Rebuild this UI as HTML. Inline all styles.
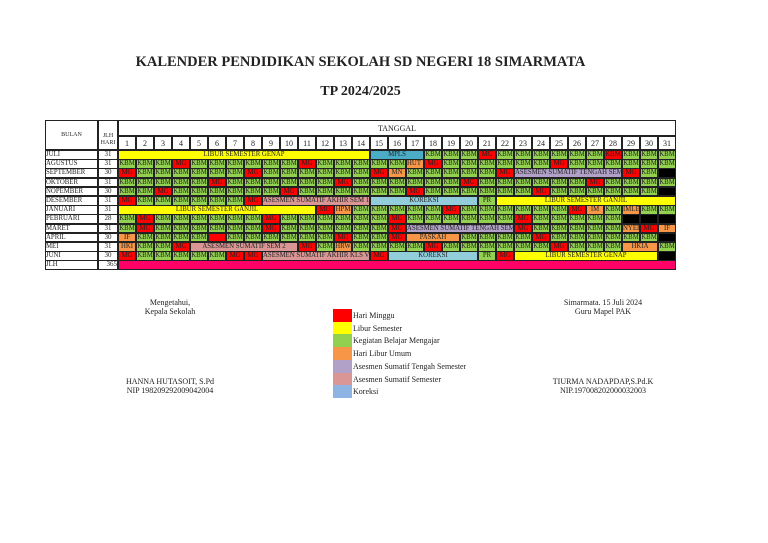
<!DOCTYPE html>
<html><head><meta charset="utf-8">
<style>
body{margin:0;width:768px;height:543px;background:#fff;position:relative;overflow:hidden;font-family:"Liberation Serif",serif;color:#222}
.a{position:absolute;box-sizing:border-box;white-space:nowrap;overflow:hidden}
.c{border:1px solid #222;font-size:6.8px;line-height:8px;text-align:center}
.t{position:absolute;white-space:nowrap;font-size:8px;text-align:center}
</style></head><body>
<div class="t" style="left:0;width:721px;top:54px;font-size:14.5px;font-weight:bold;">KALENDER PENDIDIKAN SEKOLAH SD NEGERI 18 SIMARMATA</div>
<div class="t" style="left:0;width:721px;top:84px;font-size:14px;font-weight:bold;">TP 2024/2025</div>
<div id="tbl"></div>

<div class="t" style="left:110px;width:120px;top:298px">Mengetahui,<br>Kepala Sekolah</div>
<div class="t" style="left:100px;width:140px;top:377px">HANNA HUTASOIT, S.Pd<br>NIP 198209292009042004</div>
<div class="t" style="left:543px;width:120px;top:298px">Simarmata. 15 Juli 2024<br>Guru Mapel PAK</div>
<div class="t" style="left:533px;width:140px;top:377px">TIURMA NADAPDAP,S.Pd.K<br>NIP.197008202000032003</div>
<div id="legend"></div>

<script>
const months=['JULI','AGUSTUS','SEPTEMBER','OKTOBER','NOPEMBER','DESEMBER','JANUARI','PEBRUARI','MARET','APRIL','MEI','JUNI'];
const monthDays=[31,31,30,31,30,31,31,28,31,30,31,30];
const specials=[
 [[1,14,'Y','LIBUR SEMESTER GENAP'],[15,17,'C','MPLS'],[21,21,'M','MG'],[28,28,'M','KBM']],
 [[4,4,'M','MG'],[11,11,'M','MG'],[17,17,'O','HUT RI'],[18,18,'M','MG'],[25,25,'M','MG']],
 [[1,1,'M','MG'],[8,8,'M','MG'],[15,15,'M','MG'],[16,16,'O','MN'],[22,22,'M','MG'],[23,28,'P','ASESMEN SUMATIF TENGAH SEM'],[29,29,'M','MG']],
 [[6,6,'M','MG'],[13,13,'M','MG'],[20,20,'M','MG'],[27,27,'M','MG']],
 [[3,3,'M','MG'],[10,10,'M','MG'],[17,17,'M','MG'],[24,24,'M','MG']],
 [[1,1,'M','MG'],[8,8,'M','MG'],[9,14,'S','ASESMEN SUMATIF AKHIR SEM 1'],[15,20,'B','KOREKSI'],[21,21,'K','PR'],[22,31,'Y','LIBUR SEMESTER GANJIL']],
 [[1,11,'Y','LIBUR SEMESTER GANJIL'],[12,12,'M','MG'],[13,13,'O','HPM'],[19,19,'M','MG'],[26,26,'M','MG'],[27,27,'O','IM'],[29,29,'O','IMLEK']],
 [[2,2,'M','MG'],[9,9,'M','MG'],[16,16,'M','MG'],[23,23,'M','MG']],
 [[2,2,'M','MG'],[9,9,'M','MG'],[16,16,'M','MG'],[17,22,'P','ASESMEN SUMATIF TENGAH SEM'],[23,23,'M','MG'],[29,29,'O','NYEPI'],[30,30,'M','MG'],[31,31,'O','IF']],
 [[1,1,'O','IF'],[6,6,'M',''],[13,13,'M','MG'],[16,16,'M','MG'],[17,19,'O','PASKAH'],[24,24,'M','MG']],
 [[1,1,'O','HKI'],[4,4,'M','MG'],[5,10,'S','ASESMEN SUMATIF SEM 2'],[11,11,'M','MG'],[13,13,'O','HRW'],[18,18,'M','MG'],[25,25,'M','MG'],[29,30,'O','HKIA']],
 [[1,1,'M','MG'],[7,7,'M','MG'],[8,8,'M','MG'],[9,14,'S','ASESMEN SUMATIF AKHIR KLS VI'],[15,15,'M','MG'],[16,20,'B','KOREKSI'],[21,21,'K','PR'],[22,22,'M','MG'],[23,30,'Y','LIBUR SEMESTER GENAP']]
];
const total=365;
const colors={K:'#92d050',M:'#ff0000',Y:'#ffff00',C:'#4bacc6',B:'#92cddc',O:'#f79646',P:'#b1a0c7',S:'#da9694',X:'#000000',J:'#ff0066'};
const X0=118,DW=18,Y0=150,RH=9.2;
const tbl=document.getElementById('tbl');
function cell(x,y,w,h,bg,txt,name,extra){
 const d=document.createElement('div');
 d.className='a c';
 
 
 d.style.cssText+=`left:${x}px;top:${y}px;width:${w}px;height:${h}px;background:${bg};`+(extra||'');
 d.textContent=txt;tbl.appendChild(d);return d;
}
function dx(d){return X0+(d-1)*DW;}
function ry(i){return Y0+i*RH;}
cell(45,120,53,30,'#fff','BULAN','bulan-header','line-height:28px;font-size:6px;');
const jh=cell(98,120,20,30,'#fff','','jlh-hari-header','font-size:6px;line-height:7px;padding-top:12px;');jh.innerHTML='JLH<br>HARI';
cell(118,120,558,16,'#fff','TANGGAL','tanggal-header','font-size:8px;line-height:16px;');
for(let d=1;d<=31;d++)cell(dx(d),136,DW,14,'#fff',String(d),'day-number-'+d,'font-size:8px;line-height:13px;');
months.forEach((m,i)=>{
 const y=ry(i);
 cell(45,y,53,RH+0.5,'#fff',m,'month-'+m.toLowerCase(),'text-align:left;line-height:7px;');
 cell(98,y,20,RH+0.5,'#fff',String(monthDays[i]),'days-'+m.toLowerCase(),'font-size:7px;line-height:6px;');
 const sp=specials[i];const cov=new Array(32).fill(false);
 sp.forEach(s=>{for(let d=s[0];d<=s[1];d++)cov[d]=true;
  cell(dx(s[0]),y,(s[1]-s[0]+1)*DW,RH+0.5,colors[s[2]],s[3],'cell-'+m.toLowerCase()+'-'+s[0],'');});
 for(let d=1;d<=31;d++){if(cov[d])continue;
  if(d<=monthDays[i])cell(dx(d),y,DW,RH+0.5,colors.K,'KBM','cell-'+m.toLowerCase()+'-'+d,'');
  else cell(dx(d),y,DW,RH+0.5,colors.X,'','cell-'+m.toLowerCase()+'-'+d,'');}
});
const yj=ry(12);
cell(45,yj,53,RH+0.5,'#fff','JLH','total-label','text-align:left;line-height:7px;');
cell(98,yj,20,RH+0.5,'#fff',String(total),'total-days','font-size:7px;line-height:6px;text-align:right;');
cell(118,yj,558,RH+0.5,colors.J,'','total-bar','');

const legendLabels=['Hari Minggu','Libur Semester','Kegiatan Belajar Mengajar','Hari Libur Umum','Asesmen Sumatif Tengah Semester','Asesmen Sumatif  Semester','Koreksi'];
const legendColors=['#ff0000','#ffff00','#92d050','#f79646','#b1a0c7','#da9694','#8db4e2'];
const lg=document.getElementById('legend');
legendLabels.forEach((l,i)=>{
 const s=document.createElement('div');s.className='a';
 
 
 s.style.cssText=`left:333px;top:${309+i*12.7}px;width:19px;height:13px;background:${legendColors[i]}`;
 lg.appendChild(s);
 const t=document.createElement('div');t.className='a';
 
 
 t.style.cssText=`left:353px;top:${310+i*12.7}px;font-size:8px;line-height:11px;`;
 t.textContent=l;lg.appendChild(t);
});
</script>
</body></html>
